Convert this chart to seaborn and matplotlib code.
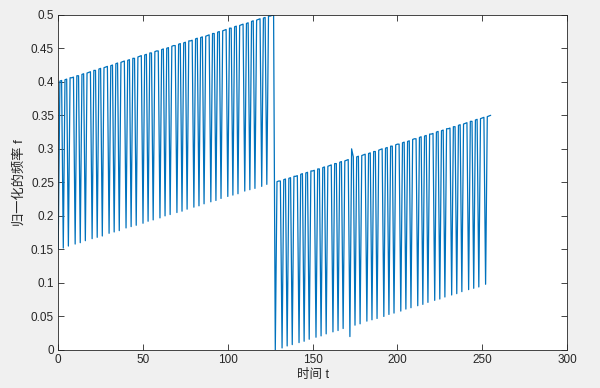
import numpy as np
import pandas as pd
import matplotlib
matplotlib.use('Agg')
import matplotlib.pyplot as plt
import seaborn as sns

# 归一化频率的采样值 (t = 0 .. 255)
freq_first = [
    0.150, 0.401, 0.402, 0.152, 0.403, 0.404, 0.155, 0.406, 0.406, 0.407,
    0.158, 0.409, 0.409, 0.160, 0.411, 0.412, 0.163, 0.413, 0.414, 0.415,
    0.166, 0.417, 0.417, 0.168, 0.419, 0.420, 0.170, 0.421, 0.422, 0.423,
    0.174, 0.424, 0.425, 0.176, 0.427, 0.428, 0.178, 0.429, 0.430, 0.431,
    0.182, 0.432, 0.433, 0.184, 0.435, 0.435, 0.186, 0.437, 0.438, 0.439,
    0.189, 0.440, 0.441, 0.192, 0.443, 0.443, 0.194, 0.445, 0.446, 0.446,
    0.197, 0.448, 0.449, 0.200, 0.450, 0.451, 0.202, 0.453, 0.454, 0.454,
    0.205, 0.456, 0.457, 0.207, 0.458, 0.459, 0.210, 0.461, 0.461, 0.462,
    0.213, 0.464, 0.465, 0.215, 0.466, 0.467, 0.218, 0.468, 0.469, 0.470,
    0.221, 0.472, 0.472, 0.223, 0.474, 0.475, 0.226, 0.476, 0.477, 0.478,
    0.229, 0.480, 0.480, 0.231, 0.482, 0.483, 0.233, 0.484, 0.485, 0.486,
    0.237, 0.487, 0.488, 0.239, 0.490, 0.491, 0.241, 0.492, 0.493, 0.494,
    0.244, 0.495, 0.496, 0.247, 0.498, 0.498, 0.499, 0.500,
]
freq_second = [
    0.000, 0.251, 0.252, 0.252, 0.003, 0.254, 0.255, 0.006, 0.256, 0.257,
    0.008, 0.259, 0.259, 0.260, 0.011, 0.262, 0.263, 0.013, 0.264, 0.265,
    0.016, 0.267, 0.267, 0.268, 0.019, 0.270, 0.270, 0.021, 0.272, 0.273,
    0.024, 0.274, 0.275, 0.276, 0.027, 0.278, 0.278, 0.029, 0.280, 0.281,
    0.032, 0.282, 0.283, 0.284, 0.020, 0.300, 0.288, 0.037, 0.288, 0.289,
    0.039, 0.290, 0.291, 0.292, 0.043, 0.293, 0.294, 0.045, 0.296, 0.296,
    0.047, 0.298, 0.299, 0.300, 0.050, 0.301, 0.302, 0.053, 0.304, 0.304,
    0.055, 0.306, 0.307, 0.307, 0.058, 0.309, 0.310, 0.061, 0.311, 0.312,
    0.063, 0.314, 0.315, 0.315, 0.066, 0.317, 0.318, 0.068, 0.319, 0.320,
    0.071, 0.322, 0.322, 0.323, 0.074, 0.325, 0.326, 0.076, 0.327, 0.328,
    0.079, 0.330, 0.330, 0.331, 0.082, 0.333, 0.333, 0.084, 0.335, 0.336,
    0.087, 0.337, 0.338, 0.339, 0.090, 0.341, 0.341, 0.092, 0.343, 0.344,
    0.094, 0.345, 0.346, 0.347, 0.098, 0.348, 0.349, 0.350,
]
x_ticks = [0, 50, 100, 150, 200, 250, 300]
y_ticks = [0, 0.05, 0.1, 0.15, 0.2, 0.25, 0.3, 0.35, 0.4, 0.45, 0.5]
y_tick_labels = ['0', '0.05', '0.1', '0.15', '0.2', '0.25', '0.3', '0.35', '0.4', '0.45', '0.5']

freq = freq_first + freq_second
df = pd.DataFrame({'t': np.arange(len(freq)), 'f': freq})

sns.set_style('ticks')
# 数字用 Helvetica 风格字体, 中文回退到 Noto Sans CJK
plt.rcParams['font.family'] = ['Liberation Sans', 'Noto Sans CJK SC', 'DejaVu Sans']
plt.rcParams['axes.unicode_minus'] = False

fig = plt.figure(figsize=(6, 3.88), dpi=100, facecolor='#f0f0f0')
ax = fig.add_axes([0.097, 0.098, 0.848, 0.864])
ax.set_facecolor('white')

sns.lineplot(data=df, x='t', y='f', ax=ax, color='#0072BD', linewidth=0.9)

ax.set_xlim(0, 300)
ax.set_ylim(0, 0.5)
ax.set_xticks(x_ticks)
ax.set_xticklabels([str(v) for v in x_ticks])
ax.set_yticks(y_ticks)
ax.set_yticklabels(y_tick_labels)
ax.tick_params(direction='in', length=4, width=0.6, colors='#262626',
               labelsize=8.5, top=True, right=True, pad=3)
for s in ax.spines.values():
    s.set_visible(True)
    s.set_color('#262626')
    s.set_linewidth(0.6)

ax.set_xlabel('时间 t', fontsize=9, color='#262626', labelpad=2)
ax.set_ylabel('归一化的频率 f', fontsize=9.5, color='#262626', labelpad=4)

fig.savefig('out.png', dpi=100, facecolor=fig.get_facecolor())
